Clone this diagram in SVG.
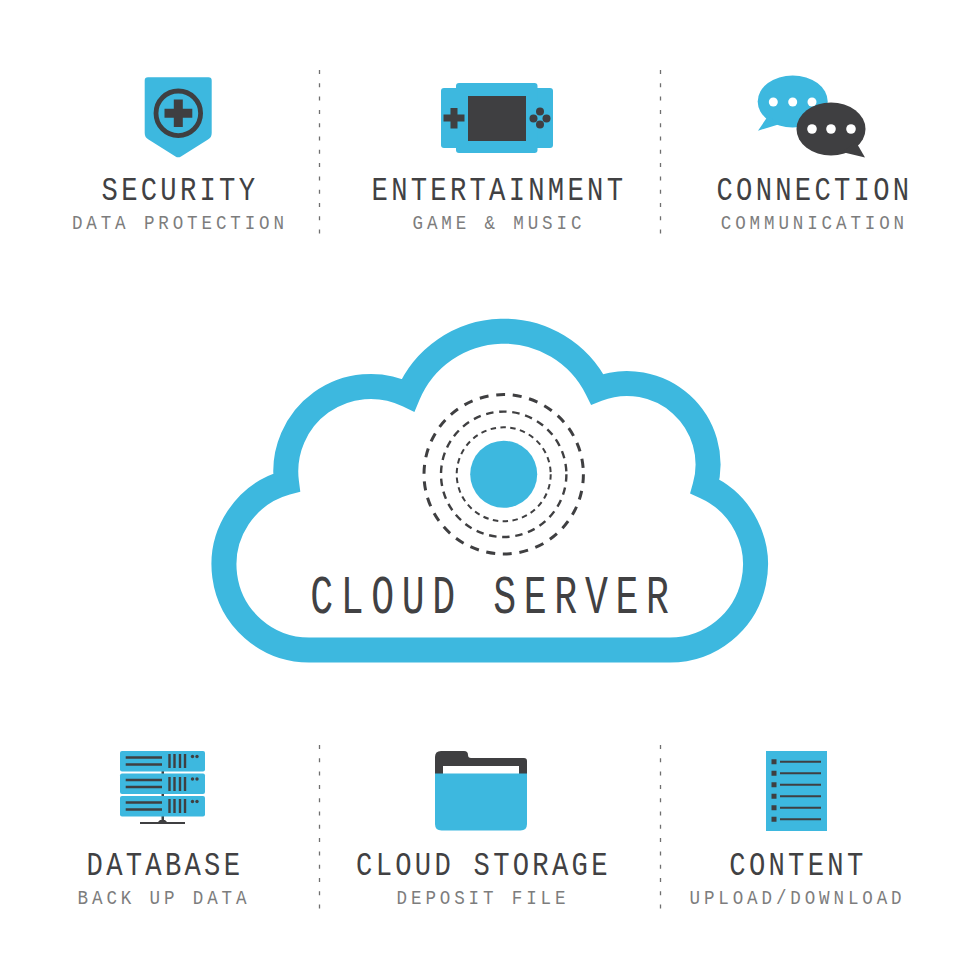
<svg xmlns="http://www.w3.org/2000/svg" width="980" height="980" viewBox="0 0 980 980">
<style>
.b{fill:#3db8df}.d{fill:#3f3f41}.w{fill:#fff}
text{font-family:"Liberation Mono","DejaVu Sans Mono",monospace;text-anchor:middle}
.t{font-size:34px;letter-spacing:4.1px;fill:#414143}
.s{font-size:19.500px;letter-spacing:4.300px;fill:#7d7d7d}
.c{font-size:53px;letter-spacing:10.600px;fill:#414143}
.div{stroke:#6f6f6f;stroke-width:1.300;stroke-dasharray:4 9.300;fill:none}
.ln{stroke:#3f3f41;stroke-width:2;fill:none}
.rk{stroke:#3f3f41;stroke-width:2.400;fill:none}
.ring{fill:none;stroke:#3f3f41}
</style>
<rect width="980" height="980" fill="#fff"/>
<g id="connectors">
<path class="div" d="M319.500 70V235M660.500 70V235M319.500 745V910M660.500 745V910"/>
</g>
<g id="cloud-server">
<path d="M309 650H670A85.500 85.500 0 0 0 705 486.500A81 81 0 0 0 597.200 389.200A104 104 0 0 0 408 395A85 85 0 0 0 286.500 482.500A85.300 85.300 0 0 0 309 650Z" fill="#fff" stroke="#3db8df" stroke-width="25" stroke-miterlimit="10"/>
<circle class="ring" cx="503.700" cy="474.300" r="79.700" stroke-width="3" stroke-dasharray="9 7.700"/>
<circle class="ring" cx="503.700" cy="474.300" r="62.700" stroke-width="2.400" stroke-dasharray="7.500 5.700"/>
<circle class="ring" cx="503.700" cy="474.300" r="47" stroke-width="2" stroke-dasharray="5.500 4.400"/>
<circle class="b" cx="503.700" cy="474.300" r="33.500"/>
<text class="c" transform="translate(493.300 613) scale(.72 1)">CLOUD SERVER</text>
</g>
<g id="security">
<path class="b" d="M148 77.300H208.500Q211.700 77.300 211.700 80.500V133Q211.700 137.500 208 139.500L181 156.500Q178.200 158.200 175.500 156.500L148.500 139.500Q144.700 137.500 144.700 133V80.500Q144.700 77.300 148 77.300Z"/>
<circle cx="178.300" cy="113.300" r="22.300" fill="none" stroke="#3f3f41" stroke-width="4.800"/>
<path class="d" d="M173.800 99.500H182.800V108.800H192.300V117.800H182.800V127H173.800V117.800H164.500V108.800H173.800Z"/>
<text class="t" transform="translate(179.900 200) scale(.8 1)">SECURITY</text>
<text class="s" transform="translate(179.900 229) scale(.9 1)">DATA PROTECTION</text>
</g>
<g id="entertainment">
<rect class="b" x="441" y="88" width="112" height="60" rx="3"/>
<rect class="b" x="456" y="83" width="81.500" height="70" rx="3"/>
<rect class="d" x="468" y="96" width="58" height="45"/>
<path class="d" d="M450.500 108H457.500V114.500H464.500V121.500H457.500V128.500H450.500V121.500H443.500V114.500H450.500Z"/>
<circle class="d" cx="540" cy="111.500" r="4"/><circle class="d" cx="540" cy="124.500" r="4"/><circle class="d" cx="533.500" cy="118.500" r="4"/><circle class="d" cx="546.500" cy="118.500" r="4"/>
<text class="t" transform="translate(498.900 200) scale(.8 1)">ENTERTAINMENT</text>
<text class="s" transform="translate(498.900 229) scale(.9 1)">GAME &amp; MUSIC</text>
</g>
<g id="connection">
<ellipse class="b" cx="792.700" cy="101.500" rx="35" ry="26"/>
<path class="b" d="M768 116L758 130.700L780 124Z"/>
<circle class="w" cx="773.300" cy="102" r="4.500"/><circle class="w" cx="792.700" cy="102" r="4.500"/><circle class="w" cx="812" cy="102" r="4.500"/>
<ellipse class="d" cx="831" cy="129" rx="34.500" ry="26.500"/>
<path class="d" d="M856 142L865 157.500L842 152Z"/>
<circle class="w" cx="812" cy="129" r="4.800"/><circle class="w" cx="831" cy="129" r="4.800"/><circle class="w" cx="851" cy="129" r="4.800"/>
<text class="t" transform="translate(814.400 200) scale(.8 1)">CONNECTION</text>
<text class="s" transform="translate(814.400 229) scale(.9 1)">COMMUNICATION</text>
</g>
<g id="database">
<path class="d" d="M161.500 770H164V820H165L167 822H185V824H140V822H158L160 820H161.500Z"/>
<g id="rack1"><rect class="b" x="120" y="751" width="85" height="20.500" rx="2"/>
<path class="rk" d="M125.700 757.500H162M125.700 764.500H162M169.500 754V768M174.500 754V768M180 754V768M185 754V768"/>
<circle class="d" cx="192.500" cy="756.500" r="1.700"/><circle class="d" cx="197" cy="756.500" r="1.700"/></g>
<g id="rack2"><rect class="b" x="120" y="773.500" width="85" height="20.500" rx="2"/>
<path class="rk" d="M125.700 780H162M125.700 787H162M169.500 777V791M174.500 777V791M180 777V791M185 777V791"/>
<circle class="d" cx="192.500" cy="779" r="1.700"/><circle class="d" cx="197" cy="779" r="1.700"/></g>
<g id="rack3"><rect class="b" x="120" y="796" width="85" height="20.500" rx="2"/>
<path class="rk" d="M125.700 802.500H162M125.700 809.500H162M169.500 799V813M174.500 799V813M180 799V813M185 799V813"/>
<circle class="d" cx="192.500" cy="801.500" r="1.700"/><circle class="d" cx="197" cy="801.500" r="1.700"/></g>
<text class="t" transform="translate(164.900 875) scale(.8 1)">DATABASE</text>
<text class="s" transform="translate(164 904) scale(.9 1)">BACK UP DATA</text>
</g>
<g id="cloud-storage">
<path class="d" d="M435 774V757Q435 751 441 751H464Q468 751 468 755Q468 758 471 758H524Q527 758 527 761V774Z"/>
<rect class="w" x="443" y="766" width="76" height="8"/>
<path class="b" d="M435 773.500H527V824Q527 830.500 520.500 830.500H441.500Q435 830.500 435 824Z"/>
<text class="t" transform="translate(483.400 875) scale(.8 1)">CLOUD STORAGE</text>
<text class="s" transform="translate(483 904) scale(.9 1)">DEPOSIT FILE</text>
</g>
<g id="content">
<rect class="b" x="766" y="751" width="61" height="80"/>
<path class="ln" d="M780 761.700H821M780 773.200H821M780 784.700H821M780 796.200H821M780 807.700H821M780 819.200H821"/>
<path class="d" d="M771.500 759.200h5v5h-5zM771.500 770.700h5v5h-5zM771.500 782.200h5v5h-5zM771.500 793.700h5v5h-5zM771.500 805.200h5v5h-5zM771.500 816.700h5v5h-5z"/>
<text class="t" transform="translate(797.900 875) scale(.8 1)">CONTENT</text>
<text class="s" transform="translate(797.500 904) scale(.9 1)">UPLOAD/DOWNLOAD</text>
</g>
</svg>
